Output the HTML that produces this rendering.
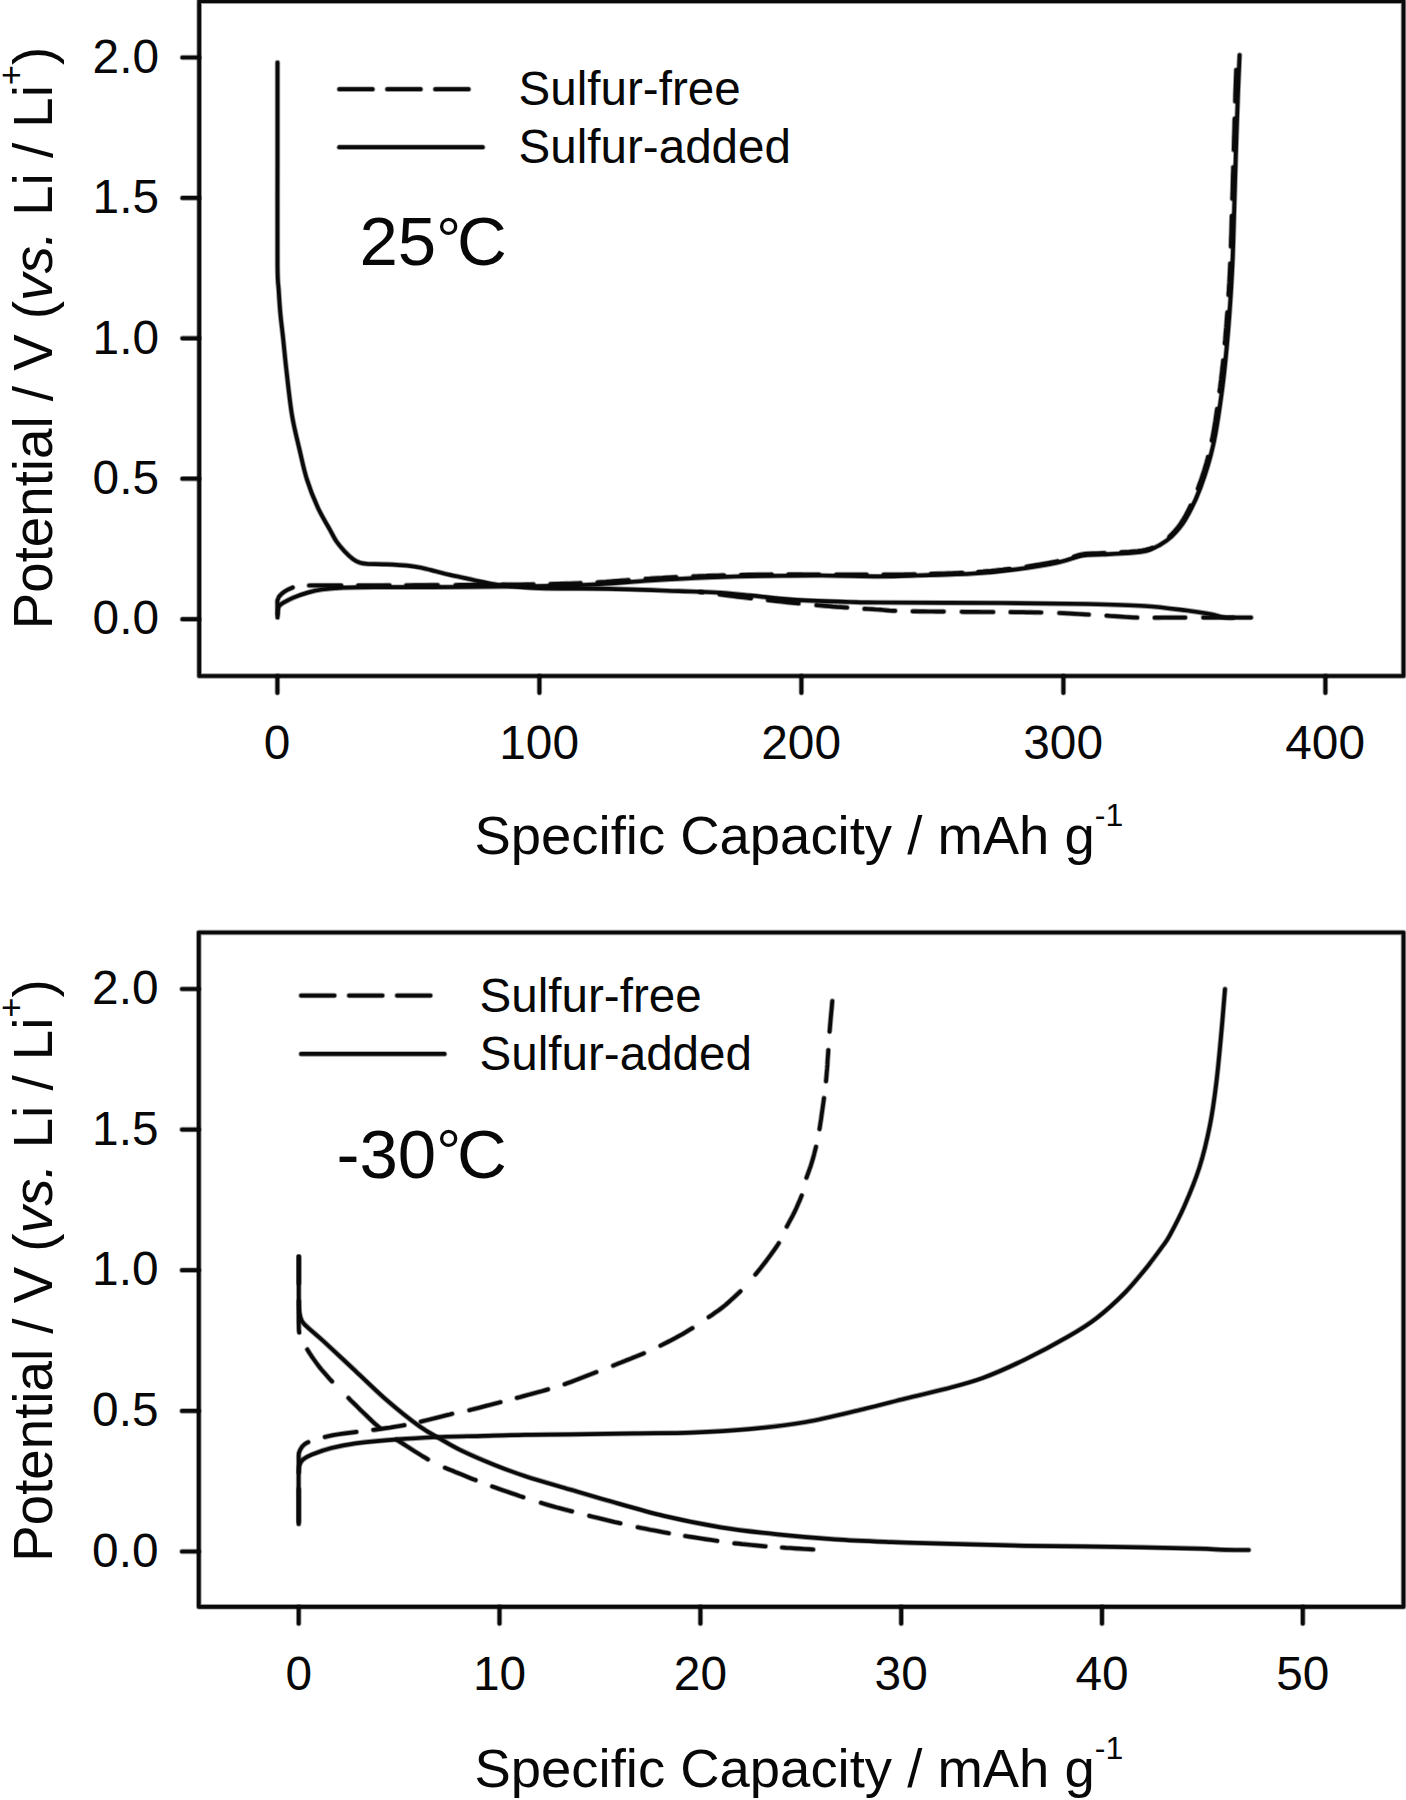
<!DOCTYPE html>
<html lang="en"><head><meta charset="utf-8"><title>Charge-discharge curves</title>
<style>html,body{margin:0;padding:0;background:#fff;}body{width:1406px;height:1800px;overflow:hidden;}svg{display:block;}text{font-family:'Liberation Sans', sans-serif;fill:#080808;}.ln,.hl{fill:none;stroke:#0a0a0a;stroke-linecap:round;stroke-linejoin:round;}.ln{stroke-width:3.7;}.hl{stroke-width:5.5;stroke-opacity:0.42;}.tk{font-size:47.8px;}.ax{font-size:54.7px;}.lg{font-size:47.6px;}.tp{font-size:69px;}</style></head><body>
<svg width="1406" height="1800" viewBox="0 0 1406 1800">
<rect x="0" y="0" width="1406" height="1800" fill="#ffffff"/>
<g>
<path class="hl" d="M199.2 1.2H1403.5V676H199.2Z"/>
<path class="ln" d="M199.2 1.2H1403.5V676H199.2Z"/>
<path class="hl" d="M182.4 57.5H199.2M182.4 197.9H199.2M182.4 338.3H199.2M182.4 478.7H199.2M182.4 619.2H199.2M277.4 676V692.8M539.4 676V692.8M801.4 676V692.8M1063.4 676V692.8M1325.4 676V692.8"/>
<path class="ln" d="M182.4 57.5H199.2M182.4 197.9H199.2M182.4 338.3H199.2M182.4 478.7H199.2M182.4 619.2H199.2M277.4 676V692.8M539.4 676V692.8M801.4 676V692.8M1063.4 676V692.8M1325.4 676V692.8"/>
<text class="tk" x="159" y="72.7" text-anchor="end">2.0</text>
<text class="tk" x="159" y="213.1" text-anchor="end">1.5</text>
<text class="tk" x="159" y="353.5" text-anchor="end">1.0</text>
<text class="tk" x="159" y="493.9" text-anchor="end">0.5</text>
<text class="tk" x="159" y="634.4" text-anchor="end">0.0</text>
<text class="tk" x="277.1" y="758.8" text-anchor="middle">0</text>
<text class="tk" x="539.1" y="758.8" text-anchor="middle">100</text>
<text class="tk" x="801.1" y="758.8" text-anchor="middle">200</text>
<text class="tk" x="1063.1" y="758.8" text-anchor="middle">300</text>
<text class="tk" x="1325.1" y="758.8" text-anchor="middle">400</text>
<text class="ax" style="font-size:54.45px" x="474.5" y="853.5">Specific Capacity / mAh g<tspan dy="-27.5" font-size="32px">-1</tspan></text>
<text class="ax" transform="translate(51.7 338) rotate(-90)" text-anchor="middle">Potential / V (<tspan font-style="italic">vs.</tspan> Li / Li<tspan dy="-29" font-size="34.5px">+</tspan><tspan dy="29">)</tspan></text>
<path class="hl" stroke-dasharray="33.3 14.7" d="M339.3 89.2H468.8"/>
<path class="ln" stroke-dasharray="33.3 14.7" d="M339.3 89.2H468.8"/>
<path class="hl" d="M339.3 147.2H482.7"/>
<path class="ln" d="M339.3 147.2H482.7"/>
<text class="lg" x="518.5" y="105.2">Sulfur-free</text>
<text class="lg" x="518.5" y="163.2">Sulfur-added</text>
<text class="tp" x="359.5" y="265.3">25<tspan font-size="62px" dx="0" dy="-4.8">°</tspan><tspan dx="-4" dy="4.8">C</tspan></text>
<path class="hl" d="M277.5 62.5C277.5 78.8 277.5 126.2 277.5 160.0C277.5 193.8 277.3 243.3 277.5 265.0C277.7 286.7 278.2 281.7 278.7 290.0C279.2 298.3 279.7 306.7 280.5 315.0C281.3 323.3 282.3 330.4 283.3 340.0C284.3 349.6 285.2 360.1 286.7 372.7C288.1 385.2 289.9 402.5 292.0 415.3C294.1 428.1 297.0 438.8 299.5 449.5C302.0 460.2 303.9 469.8 306.9 479.4C309.9 489.0 313.7 498.6 317.6 507.1C321.5 515.6 327.2 524.9 330.4 530.6C333.5 536.3 334.1 538.0 336.5 541.5C338.9 545.0 341.9 548.4 344.7 551.4C347.5 554.4 350.6 557.3 353.2 559.2C355.8 561.1 357.9 562.0 360.3 562.8C362.7 563.6 363.1 563.6 367.4 563.9C371.7 564.1 379.3 564.0 385.9 564.3C392.5 564.6 401.3 565.0 407.2 565.6C413.1 566.2 416.8 566.8 421.5 567.7C426.2 568.7 431.0 570.1 435.7 571.3C440.4 572.5 445.0 573.8 449.9 574.9C454.8 576.0 461.1 577.2 465.0 578.1C468.9 579.0 468.4 579.0 473.4 580.0C478.3 581.0 487.6 583.2 494.7 584.3C501.8 585.4 509.6 586.0 516.0 586.6C522.4 587.2 525.7 587.7 533.0 588.0C540.3 588.3 547.5 588.5 560.0 588.6C572.5 588.7 588.2 588.4 608.0 588.8C627.8 589.2 661.0 590.5 679.0 591.1C697.0 591.7 704.2 591.8 716.0 592.5C727.8 593.2 737.2 594.2 750.0 595.4C762.8 596.6 776.3 598.6 793.0 599.7C809.7 600.8 835.5 601.5 850.0 602.0C864.5 602.5 854.7 602.3 880.0 602.5C905.3 602.7 967.4 602.8 1002.0 603.0C1036.6 603.2 1063.8 603.5 1087.6 604.0C1111.3 604.5 1127.9 604.9 1144.5 606.0C1161.1 607.1 1176.1 609.2 1187.0 610.5C1197.9 611.8 1203.8 612.9 1210.0 614.0C1216.2 615.1 1219.8 616.8 1224.0 617.4C1228.2 618.0 1230.5 617.6 1235.0 617.6C1239.5 617.6 1248.3 617.6 1251.0 617.6"/>
<path class="ln" d="M277.5 62.5C277.5 78.8 277.5 126.2 277.5 160.0C277.5 193.8 277.3 243.3 277.5 265.0C277.7 286.7 278.2 281.7 278.7 290.0C279.2 298.3 279.7 306.7 280.5 315.0C281.3 323.3 282.3 330.4 283.3 340.0C284.3 349.6 285.2 360.1 286.7 372.7C288.1 385.2 289.9 402.5 292.0 415.3C294.1 428.1 297.0 438.8 299.5 449.5C302.0 460.2 303.9 469.8 306.9 479.4C309.9 489.0 313.7 498.6 317.6 507.1C321.5 515.6 327.2 524.9 330.4 530.6C333.5 536.3 334.1 538.0 336.5 541.5C338.9 545.0 341.9 548.4 344.7 551.4C347.5 554.4 350.6 557.3 353.2 559.2C355.8 561.1 357.9 562.0 360.3 562.8C362.7 563.6 363.1 563.6 367.4 563.9C371.7 564.1 379.3 564.0 385.9 564.3C392.5 564.6 401.3 565.0 407.2 565.6C413.1 566.2 416.8 566.8 421.5 567.7C426.2 568.7 431.0 570.1 435.7 571.3C440.4 572.5 445.0 573.8 449.9 574.9C454.8 576.0 461.1 577.2 465.0 578.1C468.9 579.0 468.4 579.0 473.4 580.0C478.3 581.0 487.6 583.2 494.7 584.3C501.8 585.4 509.6 586.0 516.0 586.6C522.4 587.2 525.7 587.7 533.0 588.0C540.3 588.3 547.5 588.5 560.0 588.6C572.5 588.7 588.2 588.4 608.0 588.8C627.8 589.2 661.0 590.5 679.0 591.1C697.0 591.7 704.2 591.8 716.0 592.5C727.8 593.2 737.2 594.2 750.0 595.4C762.8 596.6 776.3 598.6 793.0 599.7C809.7 600.8 835.5 601.5 850.0 602.0C864.5 602.5 854.7 602.3 880.0 602.5C905.3 602.7 967.4 602.8 1002.0 603.0C1036.6 603.2 1063.8 603.5 1087.6 604.0C1111.3 604.5 1127.9 604.9 1144.5 606.0C1161.1 607.1 1176.1 609.2 1187.0 610.5C1197.9 611.8 1203.8 612.9 1210.0 614.0C1216.2 615.1 1219.8 616.8 1224.0 617.4C1228.2 618.0 1230.5 617.6 1235.0 617.6C1239.5 617.6 1248.3 617.6 1251.0 617.6"/>
<path class="hl" d="M700 592L702.4 592.3M719.8 594.5L724.4 595.1L729.1 595.7L733.6 596.2L738 596.8L742 597.2L746 597.7L750 598.2L751 598.3M768 600.2L772 600.6L776 601.1L780 601.5L784 601.9L788.2 602.4L792.3 602.8L796.5 603.2L798.6 603.4M816.4 605.2L820 605.5L824.5 605.9L828.8 606.2L832.8 606.6L836.7 606.9L840.5 607.1L844.3 607.4L847.1 607.6M864.5 608.8L868.5 609L872.4 609.2L876.2 609.5L880.1 609.7L883.4 610L886.3 610.3L889.5 610.6L893.8 610.8L895.1 610.8M912.7 611.3L916.4 611.3L920.2 611.4L924.2 611.4L928.3 611.5L932.6 611.5L937 611.6L941.4 611.6L943.7 611.6M961.8 611.8L965.4 611.9L969.2 611.9L973.1 611.9L977.2 611.9L981.4 612L985.6 612L989.9 612L993.2 612M1010.6 612.1L1014.8 612.2L1019 612.2L1023 612.2L1027 612.3L1030.8 612.3L1034.5 612.4L1037.9 612.4L1041.2 612.5M1059.3 613L1063.5 613.2L1067.4 613.4L1071.2 613.6L1074.7 613.8L1078.2 614L1081.6 614.2L1085 614.4L1088.8 614.6M1106.5 615.7L1110.4 616L1114.1 616.2L1117.5 616.4L1121.3 616.7L1125.6 617L1128.8 617.2L1132.3 617.4L1137.2 617.6M1154.7 617.7L1158.6 617.7L1162.9 617.6L1167.4 617.6L1172.2 617.6L1177.3 617.6L1181.6 617.6L1185.2 617.6M1203.3 617.6L1208 617.6L1212.7 617.6L1217.5 617.6L1222.2 617.6L1226.7 617.6L1231.1 617.6L1233.3 617.6"/>
<path class="ln" d="M700 592L702.4 592.3M719.8 594.5L724.4 595.1L729.1 595.7L733.6 596.2L738 596.8L742 597.2L746 597.7L750 598.2L751 598.3M768 600.2L772 600.6L776 601.1L780 601.5L784 601.9L788.2 602.4L792.3 602.8L796.5 603.2L798.6 603.4M816.4 605.2L820 605.5L824.5 605.9L828.8 606.2L832.8 606.6L836.7 606.9L840.5 607.1L844.3 607.4L847.1 607.6M864.5 608.8L868.5 609L872.4 609.2L876.2 609.5L880.1 609.7L883.4 610L886.3 610.3L889.5 610.6L893.8 610.8L895.1 610.8M912.7 611.3L916.4 611.3L920.2 611.4L924.2 611.4L928.3 611.5L932.6 611.5L937 611.6L941.4 611.6L943.7 611.6M961.8 611.8L965.4 611.9L969.2 611.9L973.1 611.9L977.2 611.9L981.4 612L985.6 612L989.9 612L993.2 612M1010.6 612.1L1014.8 612.2L1019 612.2L1023 612.2L1027 612.3L1030.8 612.3L1034.5 612.4L1037.9 612.4L1041.2 612.5M1059.3 613L1063.5 613.2L1067.4 613.4L1071.2 613.6L1074.7 613.8L1078.2 614L1081.6 614.2L1085 614.4L1088.8 614.6M1106.5 615.7L1110.4 616L1114.1 616.2L1117.5 616.4L1121.3 616.7L1125.6 617L1128.8 617.2L1132.3 617.4L1137.2 617.6M1154.7 617.7L1158.6 617.7L1162.9 617.6L1167.4 617.6L1172.2 617.6L1177.3 617.6L1181.6 617.6L1185.2 617.6M1203.3 617.6L1208 617.6L1212.7 617.6L1217.5 617.6L1222.2 617.6L1226.7 617.6L1231.1 617.6L1233.3 617.6"/>
<path class="hl" d="M277.5 617.5C277.6 616.2 277.7 611.9 278.0 610.0C278.3 608.1 278.3 607.2 279.2 606.0C280.1 604.8 281.1 604.0 283.5 602.6C285.9 601.2 289.4 599.3 293.4 597.6C297.4 595.9 302.9 594.0 307.7 592.6C312.4 591.2 316.0 590.3 321.9 589.5C327.8 588.7 333.7 588.1 343.2 587.7C352.7 587.3 358.5 587.3 378.8 587.2C399.1 587.1 438.1 587.2 465.0 587.0C491.9 586.8 518.5 586.6 540.0 586.2C561.5 585.8 575.3 585.5 593.8 584.5C612.2 583.5 631.7 581.7 650.7 580.5C669.7 579.3 688.6 578.2 707.6 577.5C726.6 576.8 745.6 576.3 764.5 576.0C783.4 575.7 801.8 575.4 821.0 575.5C840.2 575.6 864.0 576.4 880.0 576.4C896.0 576.4 901.4 576.0 917.0 575.5C932.6 575.0 957.2 574.5 973.8 573.5C990.4 572.5 1002.3 571.2 1016.5 569.3C1030.7 567.4 1048.1 564.5 1059.0 562.2C1069.9 559.9 1074.9 556.9 1082.0 555.6C1089.1 554.3 1093.8 554.9 1101.8 554.5C1109.8 554.1 1122.5 553.6 1130.0 553.0C1137.5 552.4 1142.2 552.0 1147.0 550.8C1151.8 549.6 1154.7 547.9 1158.7 545.6C1162.7 543.3 1166.6 541.3 1171.0 537.0C1175.4 532.7 1180.1 528.2 1185.0 520.0C1189.9 511.8 1195.6 500.6 1200.3 488.0C1205.0 475.4 1209.6 461.5 1213.3 444.6C1217.0 427.7 1220.0 406.1 1222.5 386.8C1225.0 367.5 1226.7 348.3 1228.3 329.0C1229.9 309.7 1231.1 290.5 1232.1 271.2C1233.1 251.9 1233.5 232.7 1234.1 213.4C1234.7 194.1 1235.2 174.9 1235.8 155.6C1236.4 136.3 1237.2 114.6 1237.8 97.8C1238.4 81.0 1239.3 62.1 1239.6 55.0"/>
<path class="ln" d="M277.5 617.5C277.6 616.2 277.7 611.9 278.0 610.0C278.3 608.1 278.3 607.2 279.2 606.0C280.1 604.8 281.1 604.0 283.5 602.6C285.9 601.2 289.4 599.3 293.4 597.6C297.4 595.9 302.9 594.0 307.7 592.6C312.4 591.2 316.0 590.3 321.9 589.5C327.8 588.7 333.7 588.1 343.2 587.7C352.7 587.3 358.5 587.3 378.8 587.2C399.1 587.1 438.1 587.2 465.0 587.0C491.9 586.8 518.5 586.6 540.0 586.2C561.5 585.8 575.3 585.5 593.8 584.5C612.2 583.5 631.7 581.7 650.7 580.5C669.7 579.3 688.6 578.2 707.6 577.5C726.6 576.8 745.6 576.3 764.5 576.0C783.4 575.7 801.8 575.4 821.0 575.5C840.2 575.6 864.0 576.4 880.0 576.4C896.0 576.4 901.4 576.0 917.0 575.5C932.6 575.0 957.2 574.5 973.8 573.5C990.4 572.5 1002.3 571.2 1016.5 569.3C1030.7 567.4 1048.1 564.5 1059.0 562.2C1069.9 559.9 1074.9 556.9 1082.0 555.6C1089.1 554.3 1093.8 554.9 1101.8 554.5C1109.8 554.1 1122.5 553.6 1130.0 553.0C1137.5 552.4 1142.2 552.0 1147.0 550.8C1151.8 549.6 1154.7 547.9 1158.7 545.6C1162.7 543.3 1166.6 541.3 1171.0 537.0C1175.4 532.7 1180.1 528.2 1185.0 520.0C1189.9 511.8 1195.6 500.6 1200.3 488.0C1205.0 475.4 1209.6 461.5 1213.3 444.6C1217.0 427.7 1220.0 406.1 1222.5 386.8C1225.0 367.5 1226.7 348.3 1228.3 329.0C1229.9 309.7 1231.1 290.5 1232.1 271.2C1233.1 251.9 1233.5 232.7 1234.1 213.4C1234.7 194.1 1235.2 174.9 1235.8 155.6C1236.4 136.3 1237.2 114.6 1237.8 97.8C1238.4 81.0 1239.3 62.1 1239.6 55.0"/>
<path class="hl" d="M277.5 613.9L277.5 609.1L277.4 604.7L277.4 600.6L279 596.6L282 593.5L285.3 591.1L288.8 589.2L292.7 587.5M309.1 585.5L312.2 585.4L315.6 585.4L319.3 585.4L323.3 585.4L327.7 585.4L332.3 585.4L337.2 585.4L341.2 585.4M358.2 585.4L362 585.4L365.9 585.4L369.9 585.4L374.1 585.4L378.3 585.4L382.7 585.4L387.1 585.3L389.4 585.3M406.3 585.3L410 585.3L413.9 585.2L417.9 585.2L421.9 585.2L426.1 585.2L430.3 585.1L434.5 585.1L437.7 585.1M455.7 585L459.9 584.9L463.9 584.9L467.9 584.9L471.8 584.9L475.5 584.8L479.1 584.8L483.5 584.8L485.7 584.8M502.7 584.6L506.7 584.6L510.7 584.6L514.5 584.6L518.4 584.5L522.1 584.5L525.9 584.4L529.7 584.4L533.4 584.3M550.5 584L554.6 583.9L558.6 583.8L562.6 583.7L566.6 583.6L570.6 583.5L574.5 583.3L578.5 583.2L580.5 583.1M597.7 582.3L601.6 582L605.6 581.8L609.5 581.5L613.5 581.2L617.5 580.9L621.6 580.6L625.6 580.3L628.6 580.1M645.7 578.8L649.7 578.6L653.7 578.3L657.8 578.1L661.9 577.9L665.9 577.6L670 577.4L674.1 577.2L676.1 577.1M693.4 576.3L697.4 576.2L701.5 576L705.6 575.9L709.6 575.7L713.7 575.6L717.8 575.5L721.8 575.3L723.9 575.3M741.2 574.9L745.2 574.8L749.3 574.7L753.3 574.7L757.4 574.6L761.5 574.5L765.5 574.5L769.6 574.5L771.6 574.4M788.6 574.4L792.6 574.4L796.6 574.4L800.7 574.4L804.7 574.5L808.7 574.5L812.8 574.5L816.9 574.5L818.9 574.5M836.4 574.5L840.6 574.5L844.8 574.6L849.1 574.6L853.3 574.6L857.5 574.6L861.5 574.6L865.5 574.6L866.5 574.6M883.7 574.6L888.1 574.6L892 574.6L895.6 574.6L899.1 574.5L902.5 574.5L906.2 574.4L910.1 574.4L914.6 574.3M931.2 573.8L935.3 573.7L939.6 573.6L944 573.5L948.3 573.3L952.7 573.2L957 573L961.2 572.8L962.2 572.8M978.4 571.9L982.8 571.6L987 571.2L991.1 570.9L995.1 570.5L999 570.1L1002.8 569.7L1006.7 569.2L1009.6 568.9M1026.8 566.5L1031 565.9L1035.3 565.2L1039.5 564.5L1043.6 563.8L1047.6 563.1L1051.4 562.4L1054.9 561.7L1057.4 561.2M1074.1 556.5L1077.6 555.4L1081.1 554.5L1085.2 553.8L1089.2 553.5L1093 553.4L1097.1 553.4L1101.8 553.2L1104.5 553.1M1121.5 552.2L1125.5 552L1129.2 551.8L1133.8 551.4L1138.1 551L1141.9 550.5L1145.4 549.9L1149.3 548.9L1152.1 547.9M1169.5 536.5L1172 534L1174.6 531.3L1177.2 528.3L1179.9 524.8L1182.6 520.6L1184.6 517.3L1186.3 514.2L1188 510.9L1189.8 507.4L1190.6 505.6M1197.9 488.6L1199.2 485L1200.5 481.5L1201.7 478L1202.9 474.4L1204.1 470.7L1205.2 466.9L1206.4 463L1207.5 459L1208 457M1211.8 440.5L1212.6 436.9L1213.3 433.1L1214 429.2L1214.6 425.2L1215.3 421.2L1215.9 417.1L1216.5 413L1217.1 408.9M1219.5 391.3L1220.1 387.3L1220.6 383.3L1221.1 379.3L1221.5 375.3L1222 371.4L1222.4 367.4L1222.9 363.4L1223.2 360.4M1224.8 343.4L1225.2 339.5L1225.5 335.5L1225.8 331.5L1226.2 327.5L1226.5 323.4L1226.8 319.4L1227.1 315.3L1227.4 312.3M1228.5 295L1228.8 291L1229 286.9L1229.3 282.9L1229.5 278.8L1229.7 274.8L1229.9 270.7L1230.1 266.6L1230.2 263.6M1230.9 246.4L1231 242.3L1231.1 238.3L1231.3 234.2L1231.4 230.1L1231.5 226.1L1231.6 222L1231.7 218L1231.8 215.9M1232.3 198.7L1232.5 194.6L1232.6 190.6L1232.7 186.5L1232.8 182.5L1232.9 178.4L1233 174.4L1233.2 170.3L1233.2 167.3M1233.8 149.9L1233.9 145.7L1234 141.4L1234.1 137L1234.3 132.6L1234.4 128.2L1234.5 123.9L1234.6 119.7L1234.7 118.6M1235.2 101.3L1235.3 98.1L1235.4 92.9L1235.6 87.5L1235.8 82.6L1235.9 78.3L1236.1 74.5L1236.2 71.3L1236.2 69.9"/>
<path class="ln" d="M277.5 613.9L277.5 609.1L277.4 604.7L277.4 600.6L279 596.6L282 593.5L285.3 591.1L288.8 589.2L292.7 587.5M309.1 585.5L312.2 585.4L315.6 585.4L319.3 585.4L323.3 585.4L327.7 585.4L332.3 585.4L337.2 585.4L341.2 585.4M358.2 585.4L362 585.4L365.9 585.4L369.9 585.4L374.1 585.4L378.3 585.4L382.7 585.4L387.1 585.3L389.4 585.3M406.3 585.3L410 585.3L413.9 585.2L417.9 585.2L421.9 585.2L426.1 585.2L430.3 585.1L434.5 585.1L437.7 585.1M455.7 585L459.9 584.9L463.9 584.9L467.9 584.9L471.8 584.9L475.5 584.8L479.1 584.8L483.5 584.8L485.7 584.8M502.7 584.6L506.7 584.6L510.7 584.6L514.5 584.6L518.4 584.5L522.1 584.5L525.9 584.4L529.7 584.4L533.4 584.3M550.5 584L554.6 583.9L558.6 583.8L562.6 583.7L566.6 583.6L570.6 583.5L574.5 583.3L578.5 583.2L580.5 583.1M597.7 582.3L601.6 582L605.6 581.8L609.5 581.5L613.5 581.2L617.5 580.9L621.6 580.6L625.6 580.3L628.6 580.1M645.7 578.8L649.7 578.6L653.7 578.3L657.8 578.1L661.9 577.9L665.9 577.6L670 577.4L674.1 577.2L676.1 577.1M693.4 576.3L697.4 576.2L701.5 576L705.6 575.9L709.6 575.7L713.7 575.6L717.8 575.5L721.8 575.3L723.9 575.3M741.2 574.9L745.2 574.8L749.3 574.7L753.3 574.7L757.4 574.6L761.5 574.5L765.5 574.5L769.6 574.5L771.6 574.4M788.6 574.4L792.6 574.4L796.6 574.4L800.7 574.4L804.7 574.5L808.7 574.5L812.8 574.5L816.9 574.5L818.9 574.5M836.4 574.5L840.6 574.5L844.8 574.6L849.1 574.6L853.3 574.6L857.5 574.6L861.5 574.6L865.5 574.6L866.5 574.6M883.7 574.6L888.1 574.6L892 574.6L895.6 574.6L899.1 574.5L902.5 574.5L906.2 574.4L910.1 574.4L914.6 574.3M931.2 573.8L935.3 573.7L939.6 573.6L944 573.5L948.3 573.3L952.7 573.2L957 573L961.2 572.8L962.2 572.8M978.4 571.9L982.8 571.6L987 571.2L991.1 570.9L995.1 570.5L999 570.1L1002.8 569.7L1006.7 569.2L1009.6 568.9M1026.8 566.5L1031 565.9L1035.3 565.2L1039.5 564.5L1043.6 563.8L1047.6 563.1L1051.4 562.4L1054.9 561.7L1057.4 561.2M1074.1 556.5L1077.6 555.4L1081.1 554.5L1085.2 553.8L1089.2 553.5L1093 553.4L1097.1 553.4L1101.8 553.2L1104.5 553.1M1121.5 552.2L1125.5 552L1129.2 551.8L1133.8 551.4L1138.1 551L1141.9 550.5L1145.4 549.9L1149.3 548.9L1152.1 547.9M1169.5 536.5L1172 534L1174.6 531.3L1177.2 528.3L1179.9 524.8L1182.6 520.6L1184.6 517.3L1186.3 514.2L1188 510.9L1189.8 507.4L1190.6 505.6M1197.9 488.6L1199.2 485L1200.5 481.5L1201.7 478L1202.9 474.4L1204.1 470.7L1205.2 466.9L1206.4 463L1207.5 459L1208 457M1211.8 440.5L1212.6 436.9L1213.3 433.1L1214 429.2L1214.6 425.2L1215.3 421.2L1215.9 417.1L1216.5 413L1217.1 408.9M1219.5 391.3L1220.1 387.3L1220.6 383.3L1221.1 379.3L1221.5 375.3L1222 371.4L1222.4 367.4L1222.9 363.4L1223.2 360.4M1224.8 343.4L1225.2 339.5L1225.5 335.5L1225.8 331.5L1226.2 327.5L1226.5 323.4L1226.8 319.4L1227.1 315.3L1227.4 312.3M1228.5 295L1228.8 291L1229 286.9L1229.3 282.9L1229.5 278.8L1229.7 274.8L1229.9 270.7L1230.1 266.6L1230.2 263.6M1230.9 246.4L1231 242.3L1231.1 238.3L1231.3 234.2L1231.4 230.1L1231.5 226.1L1231.6 222L1231.7 218L1231.8 215.9M1232.3 198.7L1232.5 194.6L1232.6 190.6L1232.7 186.5L1232.8 182.5L1232.9 178.4L1233 174.4L1233.2 170.3L1233.2 167.3M1233.8 149.9L1233.9 145.7L1234 141.4L1234.1 137L1234.3 132.6L1234.4 128.2L1234.5 123.9L1234.6 119.7L1234.7 118.6M1235.2 101.3L1235.3 98.1L1235.4 92.9L1235.6 87.5L1235.8 82.6L1235.9 78.3L1236.1 74.5L1236.2 71.3L1236.2 69.9"/>
</g>
<g>
<path class="hl" d="M198.8 932.5H1403.5V1606.8H198.8Z"/>
<path class="ln" d="M198.8 932.5H1403.5V1606.8H198.8Z"/>
<path class="hl" d="M182 989H198.8M182 1129.6H198.8M182 1270.2H198.8M182 1410.9H198.8M182 1551.5H198.8M298.7 1606.8V1623.6M499.5 1606.8V1623.6M700.4 1606.8V1623.6M901.2 1606.8V1623.6M1102 1606.8V1623.6M1302.8 1606.8V1623.6"/>
<path class="ln" d="M182 989H198.8M182 1129.6H198.8M182 1270.2H198.8M182 1410.9H198.8M182 1551.5H198.8M298.7 1606.8V1623.6M499.5 1606.8V1623.6M700.4 1606.8V1623.6M901.2 1606.8V1623.6M1102 1606.8V1623.6M1302.8 1606.8V1623.6"/>
<text class="tk" x="158.5" y="1004.2" text-anchor="end">2.0</text>
<text class="tk" x="158.5" y="1144.8" text-anchor="end">1.5</text>
<text class="tk" x="158.5" y="1285.4" text-anchor="end">1.0</text>
<text class="tk" x="158.5" y="1426.1" text-anchor="end">0.5</text>
<text class="tk" x="158.5" y="1566.7" text-anchor="end">0.0</text>
<text class="tk" x="298.7" y="1689.6" text-anchor="middle">0</text>
<text class="tk" x="499.5" y="1689.6" text-anchor="middle">10</text>
<text class="tk" x="700.4" y="1689.6" text-anchor="middle">20</text>
<text class="tk" x="901.2" y="1689.6" text-anchor="middle">30</text>
<text class="tk" x="1102" y="1689.6" text-anchor="middle">40</text>
<text class="tk" x="1302.8" y="1689.6" text-anchor="middle">50</text>
<text class="ax" style="font-size:54.45px" x="474.5" y="1786.5">Specific Capacity / mAh g<tspan dy="-27.5" font-size="32px">-1</tspan></text>
<text class="ax" transform="translate(51.7 1270.5) rotate(-90)" text-anchor="middle">Potential / V (<tspan font-style="italic">vs.</tspan> Li / Li<tspan dy="-29" font-size="34.5px">+</tspan><tspan dy="29">)</tspan></text>
<path class="hl" stroke-dasharray="33.3 14.7" d="M301.1 995.6H430.6"/>
<path class="ln" stroke-dasharray="33.3 14.7" d="M301.1 995.6H430.6"/>
<path class="hl" d="M301.1 1053.9H444.5"/>
<path class="ln" d="M301.1 1053.9H444.5"/>
<text class="lg" x="479.5" y="1011.6">Sulfur-free</text>
<text class="lg" x="479.5" y="1069.9">Sulfur-added</text>
<text class="tp" x="336.5" y="1177.8">-30<tspan font-size="62px" dx="0" dy="-4.8">°</tspan><tspan dx="-4" dy="4.8">C</tspan></text>
<path class="hl" d="M298.8 1256.7C298.8 1262.2 298.8 1281.5 298.8 1290.0C298.8 1298.5 298.8 1303.7 299.0 1308.0C299.2 1312.3 299.3 1313.3 300.2 1316.0C301.1 1318.7 300.2 1319.7 304.1 1323.9C308.0 1328.1 314.8 1333.2 323.3 1341.0C331.8 1348.8 344.6 1360.8 355.3 1370.8C366.0 1380.8 376.6 1391.5 387.3 1400.7C398.0 1410.0 410.5 1419.9 419.4 1426.3C428.3 1432.7 433.6 1435.0 440.7 1439.1C447.8 1443.2 453.1 1446.5 462.0 1450.8C470.9 1455.1 483.3 1460.4 494.0 1464.7C504.7 1469.0 513.3 1472.3 526.0 1476.4C538.7 1480.5 556.5 1485.5 570.0 1489.5C583.5 1493.5 591.3 1495.9 606.9 1500.3C622.5 1504.7 644.8 1511.4 663.8 1515.9C682.8 1520.4 701.7 1524.2 720.7 1527.3C739.7 1530.4 758.6 1532.4 777.6 1534.4C796.6 1536.4 815.5 1538.0 834.5 1539.3C853.5 1540.6 872.1 1541.3 891.4 1542.1C910.6 1542.8 927.7 1543.2 950.0 1543.8C972.3 1544.4 998.5 1545.3 1025.3 1545.8C1052.1 1546.3 1082.2 1546.3 1110.7 1546.8C1139.2 1547.3 1177.0 1548.1 1196.0 1548.6C1215.0 1549.1 1215.7 1549.6 1224.5 1549.8C1233.3 1550.0 1244.7 1550.0 1248.7 1550.0"/>
<path class="ln" d="M298.8 1256.7C298.8 1262.2 298.8 1281.5 298.8 1290.0C298.8 1298.5 298.8 1303.7 299.0 1308.0C299.2 1312.3 299.3 1313.3 300.2 1316.0C301.1 1318.7 300.2 1319.7 304.1 1323.9C308.0 1328.1 314.8 1333.2 323.3 1341.0C331.8 1348.8 344.6 1360.8 355.3 1370.8C366.0 1380.8 376.6 1391.5 387.3 1400.7C398.0 1410.0 410.5 1419.9 419.4 1426.3C428.3 1432.7 433.6 1435.0 440.7 1439.1C447.8 1443.2 453.1 1446.5 462.0 1450.8C470.9 1455.1 483.3 1460.4 494.0 1464.7C504.7 1469.0 513.3 1472.3 526.0 1476.4C538.7 1480.5 556.5 1485.5 570.0 1489.5C583.5 1493.5 591.3 1495.9 606.9 1500.3C622.5 1504.7 644.8 1511.4 663.8 1515.9C682.8 1520.4 701.7 1524.2 720.7 1527.3C739.7 1530.4 758.6 1532.4 777.6 1534.4C796.6 1536.4 815.5 1538.0 834.5 1539.3C853.5 1540.6 872.1 1541.3 891.4 1542.1C910.6 1542.8 927.7 1543.2 950.0 1543.8C972.3 1544.4 998.5 1545.3 1025.3 1545.8C1052.1 1546.3 1082.2 1546.3 1110.7 1546.8C1139.2 1547.3 1177.0 1548.1 1196.0 1548.6C1215.0 1549.1 1215.7 1549.6 1224.5 1549.8C1233.3 1550.0 1244.7 1550.0 1248.7 1550.0"/>
<path class="hl" d="M298.8 1256.7L298.8 1259.1L298.8 1262.3L298.8 1266.2L298.8 1270.4L298.8 1275L298.8 1279.8L298.8 1283.3M298.8 1301.3L298.8 1306.4L298.8 1311L298.7 1315L298.7 1318.7L298.7 1322L298.8 1325L298.9 1330.1L299.2 1332.5M307.3 1349.5L309.3 1352.7L311.5 1356.1L313.9 1359.5L316.4 1363L319 1366.5L321.5 1369.6L324.3 1372.8L327.1 1376L329.9 1379.2L332 1381.4M348.5 1398L350.9 1400.5L353.7 1403.2L356.8 1406.2L359.9 1409.4L363.2 1412.5L366.5 1415.7L369.6 1418.7L372.6 1421.6L375.4 1424.1L378.7 1426.9L379.6 1427.6M396.6 1439.6L399.7 1441.6L403.2 1443.9L406.9 1446.3L410.7 1448.7L414.6 1451.2L418.3 1453.5L421.9 1455.8L425.1 1457.7L427.9 1459.4M445 1467.8L448.5 1469.2L452.5 1470.8L456.7 1472.6L461.1 1474.3L465.3 1476L469.4 1477.7L473.1 1479.2L475.6 1480.1M492.2 1486.5L495.4 1487.6L499.1 1488.9L503 1490.3L507.2 1491.7L511.4 1493.2L515.6 1494.6L519.6 1496L523.3 1497.2M541 1502.8L544.6 1503.9L548.2 1505L552.1 1506.1L556.3 1507.3L560.5 1508.4L564.6 1509.5L568.5 1510.5L572 1511.4M589.3 1515.9L593 1516.8L597.2 1517.8L601.7 1518.9L606.3 1520L610.8 1521.1L614.9 1522.1L618.7 1522.9L620.3 1523.3M637.7 1527.3L641.4 1528L645.6 1528.8L650.1 1529.7L654.7 1530.5L659.2 1531.4L663.4 1532.2L667.1 1532.9L668.8 1533.2M685.2 1536L688.8 1536.6L692.9 1537.2L697.4 1537.9L702 1538.6L706.5 1539.3L710.8 1539.9L714.7 1540.5L717.2 1540.9M734.4 1543.3L738.1 1543.6L742.3 1544.1L746.8 1544.5L751.4 1545L755.9 1545.4L760.1 1545.8L763.8 1546.2L765.5 1546.3M782 1547.5L785.9 1547.8L790.4 1548L795.2 1548.4L800.1 1548.7L804.7 1549L808.8 1549.2L812 1549.4L813.2 1549.5"/>
<path class="ln" d="M298.8 1256.7L298.8 1259.1L298.8 1262.3L298.8 1266.2L298.8 1270.4L298.8 1275L298.8 1279.8L298.8 1283.3M298.8 1301.3L298.8 1306.4L298.8 1311L298.7 1315L298.7 1318.7L298.7 1322L298.8 1325L298.9 1330.1L299.2 1332.5M307.3 1349.5L309.3 1352.7L311.5 1356.1L313.9 1359.5L316.4 1363L319 1366.5L321.5 1369.6L324.3 1372.8L327.1 1376L329.9 1379.2L332 1381.4M348.5 1398L350.9 1400.5L353.7 1403.2L356.8 1406.2L359.9 1409.4L363.2 1412.5L366.5 1415.7L369.6 1418.7L372.6 1421.6L375.4 1424.1L378.7 1426.9L379.6 1427.6M396.6 1439.6L399.7 1441.6L403.2 1443.9L406.9 1446.3L410.7 1448.7L414.6 1451.2L418.3 1453.5L421.9 1455.8L425.1 1457.7L427.9 1459.4M445 1467.8L448.5 1469.2L452.5 1470.8L456.7 1472.6L461.1 1474.3L465.3 1476L469.4 1477.7L473.1 1479.2L475.6 1480.1M492.2 1486.5L495.4 1487.6L499.1 1488.9L503 1490.3L507.2 1491.7L511.4 1493.2L515.6 1494.6L519.6 1496L523.3 1497.2M541 1502.8L544.6 1503.9L548.2 1505L552.1 1506.1L556.3 1507.3L560.5 1508.4L564.6 1509.5L568.5 1510.5L572 1511.4M589.3 1515.9L593 1516.8L597.2 1517.8L601.7 1518.9L606.3 1520L610.8 1521.1L614.9 1522.1L618.7 1522.9L620.3 1523.3M637.7 1527.3L641.4 1528L645.6 1528.8L650.1 1529.7L654.7 1530.5L659.2 1531.4L663.4 1532.2L667.1 1532.9L668.8 1533.2M685.2 1536L688.8 1536.6L692.9 1537.2L697.4 1537.9L702 1538.6L706.5 1539.3L710.8 1539.9L714.7 1540.5L717.2 1540.9M734.4 1543.3L738.1 1543.6L742.3 1544.1L746.8 1544.5L751.4 1545L755.9 1545.4L760.1 1545.8L763.8 1546.2L765.5 1546.3M782 1547.5L785.9 1547.8L790.4 1548L795.2 1548.4L800.1 1548.7L804.7 1549L808.8 1549.2L812 1549.4L813.2 1549.5"/>
<path class="hl" d="M298.7 1524.0C298.7 1520.0 298.7 1508.7 298.7 1500.0C298.7 1491.3 298.5 1477.8 298.7 1472.0C298.9 1466.2 298.9 1467.1 299.6 1465.0C300.3 1462.9 300.9 1461.2 303.0 1459.5C305.1 1457.8 307.3 1456.4 312.0 1454.5C316.7 1452.6 324.2 1449.8 331.4 1448.0C338.6 1446.2 344.2 1444.9 355.3 1443.4C366.4 1442.0 383.8 1440.4 398.0 1439.3C412.2 1438.2 426.5 1437.6 440.7 1437.0C454.9 1436.4 469.2 1436.3 483.4 1435.9C497.6 1435.5 511.6 1435.0 526.0 1434.8C540.4 1434.5 551.8 1434.6 570.0 1434.4C588.2 1434.2 614.9 1433.7 635.3 1433.4C655.7 1433.1 673.2 1433.3 692.2 1432.6C711.2 1431.9 730.1 1430.9 749.1 1429.1C768.1 1427.3 787.0 1425.3 806.0 1422.0C825.0 1418.7 846.4 1413.1 863.0 1409.2C879.6 1405.3 891.9 1401.9 905.6 1398.5C919.3 1395.1 932.1 1392.4 945.0 1389.0C957.9 1385.6 969.3 1382.9 982.7 1378.0C996.1 1373.1 1011.1 1366.3 1025.3 1359.4C1039.5 1352.5 1056.1 1343.6 1068.0 1336.7C1079.9 1329.8 1087.0 1325.6 1096.5 1318.2C1106.0 1310.8 1117.0 1300.7 1125.0 1292.6C1133.0 1284.5 1140.2 1275.2 1144.8 1269.8C1149.4 1264.4 1149.5 1263.8 1152.4 1260.0C1155.3 1256.2 1159.2 1251.0 1162.0 1247.0C1164.8 1243.0 1165.8 1242.6 1169.5 1235.8C1173.2 1229.0 1179.4 1217.4 1184.4 1206.0C1189.4 1194.6 1195.1 1181.0 1199.4 1167.5C1203.7 1154.0 1207.2 1139.1 1210.0 1124.9C1212.8 1110.7 1214.5 1097.9 1216.4 1082.2C1218.3 1066.5 1220.1 1046.5 1221.5 1031.0C1222.9 1015.5 1224.4 996.0 1225.0 989.0"/>
<path class="ln" d="M298.7 1524.0C298.7 1520.0 298.7 1508.7 298.7 1500.0C298.7 1491.3 298.5 1477.8 298.7 1472.0C298.9 1466.2 298.9 1467.1 299.6 1465.0C300.3 1462.9 300.9 1461.2 303.0 1459.5C305.1 1457.8 307.3 1456.4 312.0 1454.5C316.7 1452.6 324.2 1449.8 331.4 1448.0C338.6 1446.2 344.2 1444.9 355.3 1443.4C366.4 1442.0 383.8 1440.4 398.0 1439.3C412.2 1438.2 426.5 1437.6 440.7 1437.0C454.9 1436.4 469.2 1436.3 483.4 1435.9C497.6 1435.5 511.6 1435.0 526.0 1434.8C540.4 1434.5 551.8 1434.6 570.0 1434.4C588.2 1434.2 614.9 1433.7 635.3 1433.4C655.7 1433.1 673.2 1433.3 692.2 1432.6C711.2 1431.9 730.1 1430.9 749.1 1429.1C768.1 1427.3 787.0 1425.3 806.0 1422.0C825.0 1418.7 846.4 1413.1 863.0 1409.2C879.6 1405.3 891.9 1401.9 905.6 1398.5C919.3 1395.1 932.1 1392.4 945.0 1389.0C957.9 1385.6 969.3 1382.9 982.7 1378.0C996.1 1373.1 1011.1 1366.3 1025.3 1359.4C1039.5 1352.5 1056.1 1343.6 1068.0 1336.7C1079.9 1329.8 1087.0 1325.6 1096.5 1318.2C1106.0 1310.8 1117.0 1300.7 1125.0 1292.6C1133.0 1284.5 1140.2 1275.2 1144.8 1269.8C1149.4 1264.4 1149.5 1263.8 1152.4 1260.0C1155.3 1256.2 1159.2 1251.0 1162.0 1247.0C1164.8 1243.0 1165.8 1242.6 1169.5 1235.8C1173.2 1229.0 1179.4 1217.4 1184.4 1206.0C1189.4 1194.6 1195.1 1181.0 1199.4 1167.5C1203.7 1154.0 1207.2 1139.1 1210.0 1124.9C1212.8 1110.7 1214.5 1097.9 1216.4 1082.2C1218.3 1066.5 1220.1 1046.5 1221.5 1031.0C1222.9 1015.5 1224.4 996.0 1225.0 989.0"/>
<path class="hl" d="M298.7 1521.6L298.7 1518.4L298.7 1514.5L298.7 1510.1L298.7 1505.2L298.7 1500L298.7 1496.5L298.7 1492.5L298.7 1489.3M298.7 1472.3L298.7 1468.1L298.7 1464.4L298.7 1461.3L298.7 1455.7L298.9 1453.2L300 1450.1L302.2 1446.5L305 1443.9L308.2 1442.2M324.9 1437L329.2 1436L333.2 1435.1L337.1 1434.5L341.2 1433.9L345.3 1433.3L349.4 1432.8L353.4 1432.3L356.4 1431.9M373.3 1429.9L377.6 1429.4L381.4 1428.8L385.6 1428.2L389.9 1427.6L394.1 1426.9L398.2 1426.2L401.9 1425.6L404.4 1425.2M420.9 1421.6L424.4 1420.8L428.4 1419.8L432.7 1418.7L437.1 1417.6L441.6 1416.5L445.8 1415.4L449.6 1414.5L452.1 1413.8M469.4 1410.2L473 1409.2L477.2 1408.2L481.5 1407.1L486 1405.9L490.4 1404.8L494.5 1403.7L498.1 1402.8L500.4 1402.2M516.9 1397.9L520.4 1397L524.3 1395.9L528.6 1394.7L533.1 1393.5L537.5 1392.3L541.7 1391.2L545.5 1390.1L548 1389.4M564.7 1384.2L567.7 1383.1L571 1381.9L574.7 1380.5L578.6 1379L582.7 1377.4L586.9 1375.8L591.1 1374.1L595.3 1372.5L596.3 1372.1M613.2 1365.6L617.4 1363.9L621.6 1362.3L625.7 1360.6L629.7 1359.1L633.4 1357.5L637 1356.1L640.3 1354.8L643.2 1353.6L643.9 1353.3M660.5 1345.6L664.1 1343.8L667.7 1342L671.4 1340.1L675.1 1338.2L678.7 1336.2L682.5 1334.1L686.2 1331.9L689.8 1329.7L692.4 1328.1M708.8 1317.1L712 1314.9L715.3 1312.6L718.7 1310.2L722 1307.7L725.3 1305.1L728.3 1302.5L731.4 1299.7L734.5 1296.9L737.5 1294.1L740.4 1291.3M755.4 1274.5L757.9 1271.5L760.4 1268.4L762.9 1265.2L765.4 1262L767.9 1258.7L770.5 1255.2L773 1251.7L775.5 1248.1L777.8 1244.7L778.8 1243.1M786.8 1226.6L788.7 1223L790.7 1219.3L792.7 1215.6L794.6 1211.8L796.4 1208L798.1 1204.1L799.8 1200.2L801.3 1196.4L801.7 1195.5M806.5 1177.7L807.9 1173.8L809.3 1169.9L810.7 1166L811.9 1162.1L813 1158.4L814.1 1154.4L815.2 1150L816 1146.8M819.5 1129.1L820 1126L820.5 1122.6L821.1 1119L821.6 1115.1L822.2 1111L822.8 1106.7L823.4 1102.4L824 1098.1M826 1081.2L826.4 1077.1L826.7 1073L827.1 1068.9L827.4 1064.7L827.6 1060.5L827.9 1056.4L828.2 1052.3L828.3 1050.2M829.6 1031.6L830 1026.8L830.4 1022L830.8 1017.4L831.2 1013.1L831.6 1009.2L831.9 1005.7L832.1 1002.8L832.3 1001.1"/>
<path class="ln" d="M298.7 1521.6L298.7 1518.4L298.7 1514.5L298.7 1510.1L298.7 1505.2L298.7 1500L298.7 1496.5L298.7 1492.5L298.7 1489.3M298.7 1472.3L298.7 1468.1L298.7 1464.4L298.7 1461.3L298.7 1455.7L298.9 1453.2L300 1450.1L302.2 1446.5L305 1443.9L308.2 1442.2M324.9 1437L329.2 1436L333.2 1435.1L337.1 1434.5L341.2 1433.9L345.3 1433.3L349.4 1432.8L353.4 1432.3L356.4 1431.9M373.3 1429.9L377.6 1429.4L381.4 1428.8L385.6 1428.2L389.9 1427.6L394.1 1426.9L398.2 1426.2L401.9 1425.6L404.4 1425.2M420.9 1421.6L424.4 1420.8L428.4 1419.8L432.7 1418.7L437.1 1417.6L441.6 1416.5L445.8 1415.4L449.6 1414.5L452.1 1413.8M469.4 1410.2L473 1409.2L477.2 1408.2L481.5 1407.1L486 1405.9L490.4 1404.8L494.5 1403.7L498.1 1402.8L500.4 1402.2M516.9 1397.9L520.4 1397L524.3 1395.9L528.6 1394.7L533.1 1393.5L537.5 1392.3L541.7 1391.2L545.5 1390.1L548 1389.4M564.7 1384.2L567.7 1383.1L571 1381.9L574.7 1380.5L578.6 1379L582.7 1377.4L586.9 1375.8L591.1 1374.1L595.3 1372.5L596.3 1372.1M613.2 1365.6L617.4 1363.9L621.6 1362.3L625.7 1360.6L629.7 1359.1L633.4 1357.5L637 1356.1L640.3 1354.8L643.2 1353.6L643.9 1353.3M660.5 1345.6L664.1 1343.8L667.7 1342L671.4 1340.1L675.1 1338.2L678.7 1336.2L682.5 1334.1L686.2 1331.9L689.8 1329.7L692.4 1328.1M708.8 1317.1L712 1314.9L715.3 1312.6L718.7 1310.2L722 1307.7L725.3 1305.1L728.3 1302.5L731.4 1299.7L734.5 1296.9L737.5 1294.1L740.4 1291.3M755.4 1274.5L757.9 1271.5L760.4 1268.4L762.9 1265.2L765.4 1262L767.9 1258.7L770.5 1255.2L773 1251.7L775.5 1248.1L777.8 1244.7L778.8 1243.1M786.8 1226.6L788.7 1223L790.7 1219.3L792.7 1215.6L794.6 1211.8L796.4 1208L798.1 1204.1L799.8 1200.2L801.3 1196.4L801.7 1195.5M806.5 1177.7L807.9 1173.8L809.3 1169.9L810.7 1166L811.9 1162.1L813 1158.4L814.1 1154.4L815.2 1150L816 1146.8M819.5 1129.1L820 1126L820.5 1122.6L821.1 1119L821.6 1115.1L822.2 1111L822.8 1106.7L823.4 1102.4L824 1098.1M826 1081.2L826.4 1077.1L826.7 1073L827.1 1068.9L827.4 1064.7L827.6 1060.5L827.9 1056.4L828.2 1052.3L828.3 1050.2M829.6 1031.6L830 1026.8L830.4 1022L830.8 1017.4L831.2 1013.1L831.6 1009.2L831.9 1005.7L832.1 1002.8L832.3 1001.1"/>
</g>
</svg>
</body></html>
